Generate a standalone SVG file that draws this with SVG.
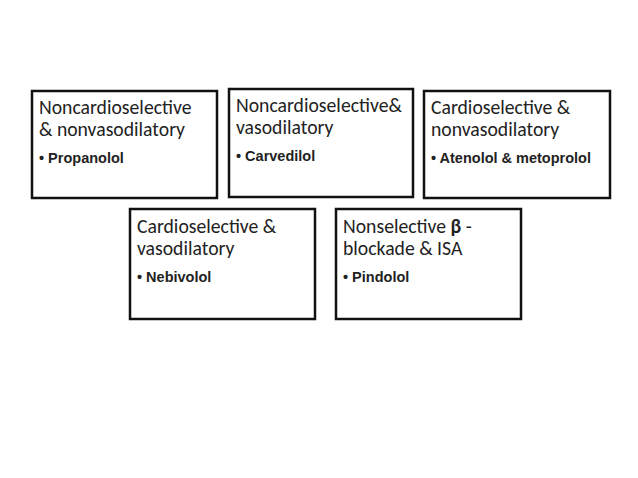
<svg xmlns="http://www.w3.org/2000/svg" width="638" height="478" viewBox="0 0 638 478">
<style>
rect{fill:#fff;stroke:#111;stroke-width:2.5}
.t{font-family:Calibri,"Liberation Sans",sans-serif;font-size:19.7px;fill:#222}
.b{font-family:"Liberation Sans",sans-serif;font-size:14.5px;font-weight:bold;fill:#222}
</style>
<rect x="0" y="0" width="638" height="478" style="stroke:none"/>
<g id="n1"><rect x="32" y="91" width="185" height="107"/>
<text class="t" x="39" y="114">Noncardioselective</text><text class="t" x="39" y="136">&amp; nonvasodilatory</text><text class="b" x="39" y="163">• Propanolol</text></g>
<g id="n2"><rect x="229" y="89" width="184" height="108"/>
<text class="t" x="236" y="112">Noncardioselective&amp;</text><text class="t" x="236" y="134">vasodilatory</text><text class="b" x="236" y="161">• Carvedilol</text></g>
<g id="n3"><rect x="424" y="91" width="186" height="107"/>
<text class="t" x="431" y="114">Cardioselective &amp;</text><text class="t" x="431" y="136">nonvasodilatory</text><text class="b" x="431" y="163">• Atenolol &amp; metoprolol</text></g>
<g id="n4"><rect x="130" y="209" width="185" height="110"/>
<text class="t" x="137" y="233">Cardioselective &amp;</text><text class="t" x="137" y="255">vasodilatory</text><text class="b" x="137" y="282">• Nebivolol</text></g>
<g id="n5"><rect x="336" y="209" width="185" height="110"/>
<text class="t" x="343" y="233">Nonselective <tspan font-weight="bold">β</tspan> -</text><text class="t" x="343" y="255">blockade &amp; ISA</text><text class="b" x="343" y="282">• Pindolol</text></g>
<g id="connectors"/>
</svg>
